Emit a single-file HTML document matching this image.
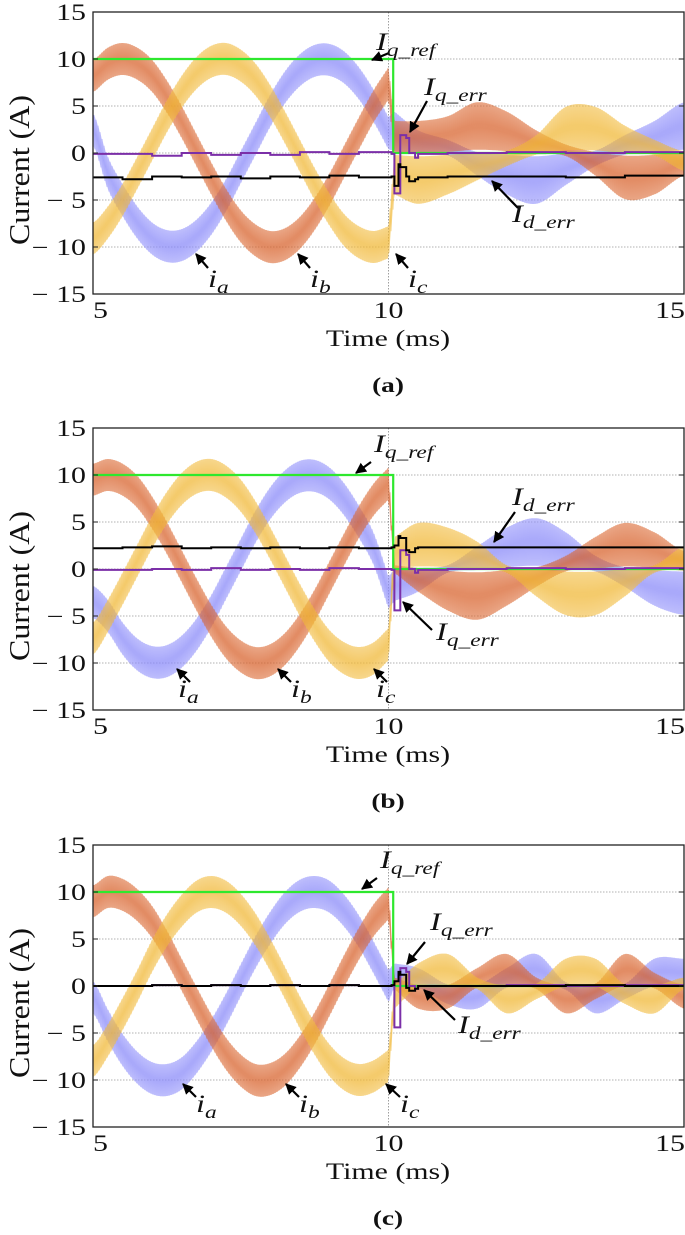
<!DOCTYPE html>
<html><head><meta charset="utf-8"><style>
html,body{margin:0;padding:0;background:#fff;}
svg{display:block;}
</style></head><body>
<svg id="fig" width="685" height="1235" viewBox="0 0 685 1235" xmlns="http://www.w3.org/2000/svg" font-family="Liberation Serif, serif" fill="#111">
<defs>
<marker id="ah" viewBox="0 0 10 10" refX="9" refY="5" markerWidth="5" markerHeight="5" orient="auto"><path d="M0,0 L10,5 L0,10 z" fill="#000"/></marker>
<clipPath id="clipA"><rect x="93" y="12" width="591" height="282"/></clipPath>
<clipPath id="clipB"><rect x="93" y="428" width="591" height="282"/></clipPath>
<clipPath id="clipC"><rect x="93" y="845" width="591" height="282"/></clipPath>
</defs>
</svg>
<script>
// ---- data ----
const preT=[5,5.25,5.5,5.75,6,6.25,6.5,6.75,7,7.25,7.5,7.75,8,8.25,8.5,8.75,9,9.25,9.5,9.75,10];
const postT=[10.1,10.5,11,11.5,12,12.5,13,13.5,14,14.5,15];
// panel a
const aOrangePre=[8.2,9.5,10,9.5,8.2,6.0,3.3,0.3,-2.7,-5.5,-7.8,-9.3,-10,-9.7,-8.5,-6.5,-3.9,-0.9,2.1,5.0,7.4];
const aYellowPre=[-9.1,-7.4,-5.0,-2.1,0.9,3.9,6.5,8.5,9.7,10.0,9.3,7.8,5.5,2.7,-0.3,-3.3,-6.0,-8.2,-9.5,-10,-9.5];
const aBluePre=[2.5,-2.1,-5.0,-7.4,-9.1,-9.9,-9.8,-8.8,-7.0,-4.5,-1.5,1.5,4.5,7.0,8.8,9.8,9.9,9.1,7.4,5.0,2.1];
const aOrangePost=[3,3,3.5,5,4,2,0.5,-2,-4.5,-4,-2];
const aYellowPost=[-4,-5,-4,-2.5,-1,1.5,4.5,4.5,2.5,1,-1.5];
const aBluePost=[4,2,1,-2,-4,-5,-3,-1,1.5,3,5];
// panel b
const bOrangePre=[9.5,10,9.5,8.2,6.0,3.3,0.3,-2.7,-5.5,-7.8,-9.3,-10,-9.7,-8.5,-6.5,-3.9,-0.9,2.1,5.0,7.4,9.1];
const bYellowPre=[-7.4,-5.0,-2.1,0.9,3.9,6.5,8.5,9.7,10.0,9.3,7.8,5.5,2.7,-0.3,-3.3,-6.0,-8.2,-9.5,-10,-9.5,-8.0];
const bBluePre=[-3.5,-5.0,-7.4,-9.1,-9.9,-9.8,-8.8,-7.0,-4.5,-1.5,1.5,4.5,7.0,8.8,9.8,9.9,9.1,7.4,5.0,2.1,-2.5];
const bOrangePost=[0,-2,-4,-5,-3.5,-1.5,1,3,4.5,3.5,1.5];
const bYellowPost=[3,4.5,4,2.5,0,-2.5,-4.5,-4.5,-2.5,0,2];
const bBluePost=[-3,-2,0,2,4,5,3.5,1,-1.5,-3.5,-4.5];
// panel c
const cOrangePre=[9.0,10,9.7,8.6,6.8,4.2,1.2,-1.8,-4.7,-7.2,-9.0,-10,-9.9,-8.9,-7.0,-4.5,-1.5,1.6,4.5,7.0,8.8];
const cYellowPre=[-8.0,-5.8,-3.0,0,3.2,5.9,8.0,9.5,10.0,9.5,8.1,6.0,3.3,0.3,-2.8,-5.6,-7.9,-9.4,-10,-9.6,-8.5];
const cBluePre=[-1.2,-4.2,-6.8,-8.7,-9.8,-10,-9.3,-7.6,-5.3,-2.5,0.6,3.6,6.2,8.3,9.6,10,9.5,8.0,5.8,3.0,0];
const cOrangePost=[0.5,-2,-2,1.5,3,0.5,-2.5,-1,3,1,-2];
const cYellowPost=[-2,2,3,0.5,-2.5,-1,2.5,2.5,-1.5,-2.5,0.5];
const cBluePost=[2,1.5,-1.5,-2,1.5,3,0,-2.5,-1,2.5,2.5];
// dq error traces
const errT=[5,5.5,6,6.5,7,7.5,8,8.5,9,9.5,10.05,10.1,10.17,10.2,10.3,10.35,10.45,10.5,11,12,13,14,15];
const aIq=[-0.1,-0.1,-0.3,0,-0.2,0,-0.2,0.1,-0.1,0.1,-0.1,-4.3,-4.3,1.9,1.6,0,-0.5,-0.1,0,0.1,0,0.1,0];
const aId=[-2.6,-2.8,-2.5,-2.6,-2.5,-2.7,-2.5,-2.6,-2.4,-2.6,-2.5,-3.5,-1.2,-1.5,-2.5,-3.0,-2.8,-2.6,-2.5,-2.5,-2.6,-2.4,-2.4];
const bIq=[-0.1,-0.1,0,-0.1,0.1,-0.1,0,-0.1,0.1,0,-0.1,-4.4,-4.4,2.0,1.5,0,-0.4,-0.1,0,0.1,0,0.1,0];
const bId=[2.2,2.3,2.4,2.2,2.3,2.2,2.3,2.2,2.3,2.2,2.3,2.5,3.5,3.3,2.0,1.8,2.2,2.3,2.3,2.3,2.3,2.3,2.4];
const cIq=[0,0,0.1,0,0.1,0,0.1,0,0.1,0,0,-4.4,-4.4,1.9,1.5,0,-0.3,0,0,0.1,0,0.1,0];
const cId=[0,0,0.1,0,0.1,0,0.1,0,0.1,0,0.1,0.5,1.5,1.2,-0.2,-0.5,-0.3,0,0,0,0.1,0,0.1];
const refT=[5,10.08,10.08,15];
const refV=[10,10,0,0];
const yTicks=[15,10,5,0,-5,-10,-15];
const yTickLabels=["15","10","5","0","\u2212 5","\u2212 10","\u2212 15"];
const xTicks=[5,10,15];
const captions=["(a)","(b)","(c)"];

// ---- rendering ----
const NS="http://www.w3.org/2000/svg";
const svg=document.getElementById('fig');
const X0=93,X1=684,SX=1.3;
function xs(t){return X0+(t-5)*(X1-X0)/10;}
function ys(v,oy){return oy+153-v*9.4;}
function mk(tag,attrs,parent){const e=document.createElementNS(NS,tag);for(const k in attrs)e.setAttribute(k,attrs[k]);(parent||svg).appendChild(e);return e;}
function stxt(parent,x,y,anchor,size,str,extra){
  const a={x:0,y:0,'text-anchor':anchor,'font-size':size,transform:'translate('+x+','+y+') scale('+SX+',1)'};
  if(extra)for(const k in extra)a[k]=extra[k];
  const t=mk('text',a,parent); t.textContent=str; return t;
}
function interp(T,V,t){
  const n=T.length;
  if(t<=T[0])return V[0]; if(t>=T[n-1])return V[n-1];
  let i=0; while(i<n-2&&t>T[i+1])i++;
  const u=(t-T[i])/(T[i+1]-T[i]);
  if(T[i+1]-T[i]<0.2)return V[i]+(V[i+1]-V[i])*u;
  const p1=V[i],p2=V[i+1];
  let p0=V[Math.max(i-1,0)],p3=V[Math.min(i+2,n-1)];
  if(i>0&&T[i]-T[i-1]<0.2)p0=2*p1-p2;
  if(i+2<n&&T[i+2]-T[i+1]<0.2)p3=2*p2-p1;
  return 0.5*((2*p1)+(-p0+p2)*u+(2*p0-5*p1+4*p2-p3)*u*u+(-p0+3*p1-3*p2+p3)*u*u*u);
}
const panels=[
 {oy:0,clip:'clipA',o:[aOrangePre,aOrangePost],y:[aYellowPre,aYellowPost],b:[aBluePre,aBluePost],iq:aIq,id:aId},
 {oy:416,clip:'clipB',o:[bOrangePre,bOrangePost],y:[bYellowPre,bYellowPost],b:[bBluePre,bBluePost],iq:bIq,id:bId},
 {oy:833,clip:'clipC',o:[cOrangePre,cOrangePost],y:[cYellowPre,cYellowPost],b:[cBluePre,cBluePost],iq:cIq,id:cId}
];
function drawPhase(g,pre,post,oy,fill,line,name){
  const T=preT.concat(postT);
  const C=pre.concat(post.map(e=>0.575*e));
  const H=pre.map(()=>1.7).concat(post.map(e=>0.425*Math.abs(e)+0.4));
  let up=[],lo=[],zz=[];
  for(let x=X0;x<=X1;x+=1){
    const t=5+(x-X0)*10/(X1-X0);
    const c=interp(T,C,t),h=interp(T,H,t);
    const yu=ys(c+h,oy),yl=ys(c-h,oy);
    up.push(x+','+yu.toFixed(1)); lo.unshift(x+','+yl.toFixed(1));
    zz.push(x+','+(((x-X0)%2)?yu:yl).toFixed(1));
  }
  const band=mk('polygon',{points:up.concat(lo).join(' '),fill:fill,'fill-opacity':0.45},g);
  
  
  const rip=mk('polyline',{points:zz.join(' '),fill:'none',stroke:line,'stroke-width':0.9,'stroke-opacity':0.55},g);
  
  
}
function stepLine(g,T,V,oy,color,w,name){
  let pts=[];
  for(let i=0;i<T.length;i++){
    if(i>0)pts.push(xs(T[i]).toFixed(1)+','+ys(V[i-1],oy).toFixed(1));
    pts.push(xs(T[i]).toFixed(1)+','+ys(V[i],oy).toFixed(1));
  }
  const l=mk('polyline',{points:pts.join(' '),fill:'none',stroke:color,'stroke-width':w},g);
  
  
}
panels.forEach((p,pi)=>{
  const oy=p.oy;
  const g=mk('g',{});
  
  
  yTicks.forEach(v=>{
    if(v===15||v===-15)return;
    const gl=mk('line',{x1:X0,x2:X1,y1:ys(v,oy),y2:ys(v,oy),stroke:'#999','stroke-width':0.8,'stroke-dasharray':'1.5,1.5'},g);
    
    
  });
  const vg=mk('line',{x1:xs(10),x2:xs(10),y1:ys(15,oy),y2:ys(-15,oy),stroke:'#888','stroke-width':0.8,'stroke-dasharray':'1.5,1.5'},g);
  
  
  const pg=mk('g',{'clip-path':'url(#'+p.clip+')'},g);
  
  
  drawPhase(pg,p.b[0],p.b[1],oy,'#9b9bff','#7f7ff5','ia');
  drawPhase(pg,p.o[0],p.o[1],oy,'#e0703a','#d45a22','ib');
  drawPhase(pg,p.y[0],p.y[1],oy,'#f5c24a','#eeb22a','ic');
  stepLine(pg,refT,refV,oy,'#2ee82e',2.2,'iq-ref-line');
  stepLine(pg,errT,p.iq,oy,'#7b2fa8',2,'iq-err-line');
  stepLine(pg,errT,p.id,oy,'#000',2,'id-err-line');
  const fr=mk('rect',{x:X0,y:ys(15,oy),width:X1-X0,height:ys(-15,oy)-ys(15,oy),fill:'none',stroke:'#222','stroke-width':1.3},g);
  
  
  yTicks.forEach((v,i)=>{
    const tl=mk('line',{x1:X0,x2:X0+5,y1:ys(v,oy),y2:ys(v,oy),stroke:'#222','stroke-width':1},g);
    
    
    const tr=mk('line',{x1:X1-5,x2:X1,y1:ys(v,oy),y2:ys(v,oy),stroke:'#222','stroke-width':1},g);
    
    
    const t=stxt(g,86,ys(v,oy)+8,'end',23,yTickLabels[i]);
    
    
  });
  xTicks.forEach((v,i)=>{
    const anchor=i===0?'start':(i===xTicks.length-1?'end':'middle');
    const t=stxt(g,i===xTicks.length-1?685:xs(v),oy+318,anchor,23,String(v));
    
    
  });
  const xt=stxt(g,388,oy+346,'middle',23,'Time (ms)');
  
  
  const yt=mk('text',{x:0,y:0,'text-anchor':'middle','font-size':'29',textLength:'150',lengthAdjust:'spacingAndGlyphs',transform:'translate(29,'+(oy+170)+') rotate(-90)'},g);
  yt.textContent='Current (A)';
  
  
  const cp=stxt(g,388,oy+392,'middle',21,captions[pi],{'font-weight':'bold'});
  
  
});
function note(x,y,main,sub,tx,ty,hx,hy,name){
  const a=mk('line',{x1:tx,y1:ty,x2:hx,y2:hy,stroke:'#000','stroke-width':2.2,'marker-end':'url(#ah)'});
  
  
  const t=mk('text',{x:0,y:0,'font-size':'25','font-style':'italic',transform:'translate('+x+','+y+') scale('+SX+',1)'});
  
  
  const s1=mk('tspan',{},t); s1.textContent=main;
  const s2=mk('tspan',{'font-size':'18',dy:6},t); s2.textContent=sub;
}
const notes=[
 [376,50,'I','q_ref',389,53,372,60,'iq-ref'],
 [424,95,'I','q_err',427,101,410,132,'iq-err'],
 [512,222,'I','d_err',518,208,492,181,'id-err'],
 [208,287,'i','a',208,268,196,254,'ia'],
 [310,287,'i','b',310,268,298,254,'ib'],
 [408,287,'i','c',408,268,396,254,'ic'],
 [374,452,'I','q_ref',371,462,356,473,'iq-ref-b'],
 [512,505,'I','d_err',515,512,494,542,'id-err-b'],
 [436,640,'I','q_err',432,630,403,602,'iq-err-b'],
 [178,697,'i','a',190,682,177,669,'ia-b'],
 [291,697,'i','b',291,682,278,669,'ib-b'],
 [376,697,'i','c',387,682,374,669,'ic-b'],
 [380,868,'I','q_ref',377,878,362,889,'iq-ref-c'],
 [430,930,'I','q_err',425,942,407,964,'iq-err-c'],
 [458,1033,'I','d_err',455,1020,424,990,'id-err-c'],
 [196,1112,'i','a',196,1097,183,1084,'ia-c'],
 [299,1112,'i','b',299,1097,286,1084,'ib-c'],
 [400,1112,'i','c',400,1097,386,1084,'ic-c']
];
notes.forEach(n=>note(...n));
</script>
</body></html>
